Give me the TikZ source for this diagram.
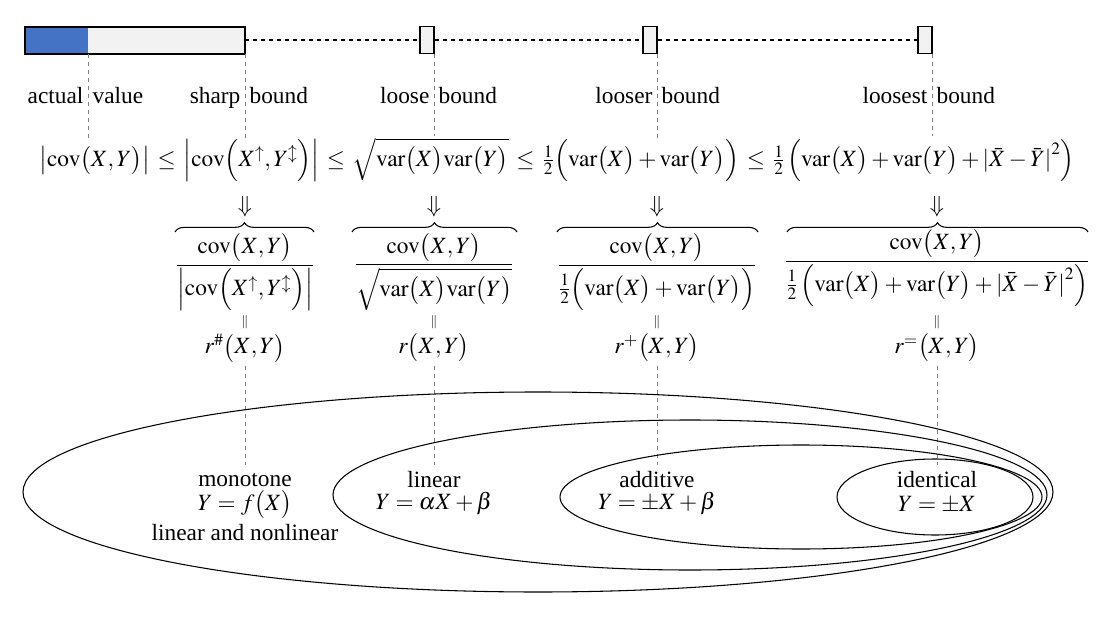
\documentclass[tikz,border=0pt]{standalone}
\usepackage{amsmath}
\usepackage{mathptmx}
\usepackage{fontspec}
\setmainfont{Liberation Serif}
\usetikzlibrary{decorations.pathreplacing}
\definecolor{barblue}{HTML}{4472C4}
\newcommand{\cv}{\mathrm{cov}}
\newcommand{\vr}{\mathrm{var}}
\begin{document}
\begin{tikzpicture}[x=0.75pt,y=-0.75pt,
  txt/.style={font=\fontsize{17.5}{20}\selectfont, inner sep=1pt},
  vd/.style={gray, dashed, thin},
  br/.style={decorate, decoration={brace, amplitude=7pt}, thick},
  ell/.style={draw, thick}]
\useasboundingbox (0,0) rectangle (1106,620);
% bar
\fill[gray!10] (25,27) rectangle (245,54);
\fill[barblue] (25,27) rectangle (88,54);
\draw[thick] (25,27) rectangle (245,54);
\node[coordinate] (b1) at (245,40) {};
\node[draw, thick, fill=gray!10, minimum width=10.5pt, minimum height=20pt, inner sep=0] (b2) at (427,40) {};
\node[draw, thick, fill=gray!10, minimum width=10.5pt, minimum height=20pt, inner sep=0] (b3) at (650,40) {};
\node[draw, thick, fill=gray!10, minimum width=10.5pt, minimum height=20pt, inner sep=0] (b4) at (925,40) {};
\draw[thick, dashed] (b1) -- (b2.west) (b2.east) -- (b3.west) (b3.east) -- (b4.west);
% labels
\node[txt, anchor=base east] at (85,104) {actual};
\node[txt, anchor=base west] at (91,104) {value};
\node[txt, anchor=base east] at (242,104) {sharp};
\node[txt, anchor=base west] at (248,104) {bound};
\node[txt, anchor=base east] at (431,104) {loose};
\node[txt, anchor=base west] at (437,104) {bound};
\node[txt, anchor=base east] at (654,104) {looser};
\node[txt, anchor=base west] at (660,104) {bound};
\node[txt, anchor=base east] at (929,104) {loosest};
\node[txt, anchor=base west] at (935,104) {bound};
\draw[vd] (88,54) -- (88,140);
\draw[vd] (245,54) -- (245,140);
\draw[vd] (434,54) -- (434,136);
\draw[vd] (657,54) -- (657,140);
\draw[vd] (932,54) -- (932,136);
% inequality
\node[txt] (ineq) at (557,160) {$\left|\cv\bigl(X,Y\bigr)\right| \,\le\, \left|\cv\Bigl(X^{\uparrow},Y^{\updownarrow}\Bigr)\right| \,\le\, \sqrt{\vr\bigl(X\bigr)\vr\bigl(Y\bigr)} \,\le\, \tfrac12\Bigl(\vr\bigl(X\bigr)+\vr\bigl(Y\bigr)\Bigr) \,\le\, \tfrac12\left(\vr\bigl(X\bigr)+\vr\bigl(Y\bigr)+\left|\bar{X}-\bar{Y}\right|^2\right)$};
% arrows
\foreach \x in {245,434,657,937} \node[txt] at (\x,207) {$\Downarrow$};
\draw[br] (175,232) -- (314,232);
\draw[br] (352,232) -- (517,232);
\draw[br] (557,232) -- (758,232);
\draw[br] (787,232) -- (1088,232);
% fractions
\node[txt] (f1) at (245,272) {$\dfrac{\cv\bigl(X,Y\bigr)}{\left|\cv\Bigl(X^{\uparrow},Y^{\updownarrow}\Bigr)\right|}$};
\node[txt] (f2) at (434,272) {$\dfrac{\cv\bigl(X,Y\bigr)}{\sqrt{\vr\bigl(X\bigr)\vr\bigl(Y\bigr)}}$};
\node[txt] (f3) at (657,272) {$\dfrac{\cv\bigl(X,Y\bigr)}{\tfrac12\Bigl(\vr\bigl(X\bigr)+\vr\bigl(Y\bigr)\Bigr)}$};
\node[txt] (f4) at (937,268) {$\dfrac{\cv\bigl(X,Y\bigr)}{\tfrac12\left(\vr\bigl(X\bigr)+\vr\bigl(Y\bigr)+\left|\bar{X}-\bar{Y}\right|^2\right)}$};
\foreach \x/\r in {245/{^{\#}},434/{},657/{^{+}},937/{^{=}}} {
  \node[font=\fontsize{10}{11}\selectfont] at (\x,322) {$\|$};
  \node[txt] at (\x,348) {$r\r\bigl(X,Y\bigr)$};
}
\draw[vd] (245,366) -- (245,465);
\draw[vd] (434,366) -- (434,465);
\draw[vd] (657,366) -- (657,465);
\draw[vd] (937,366) -- (937,465);
% ellipses
\draw[ell] (538,492) ellipse [x radius=515, y radius=100];
\draw[ell] (690,495) ellipse [x radius=357, y radius=75];
\draw[ell] (801,497) ellipse [x radius=241, y radius=52];
\draw[ell] (935,497) ellipse [x radius=98, y radius=38];
\node[txt] at (245,480) {monotone};
\node[txt] at (245,505) {$Y=f\bigl(X\bigr)$};
\node[txt] at (245,533) {linear and nonlinear};
\node[txt] at (434,480) {linear};
\node[txt] at (434,503) {$Y=\alpha X+\beta$};
\node[txt] at (657,480) {additive};
\node[txt] at (657,503) {$Y=\pm X+\beta$};
\node[txt] at (937,480) {identical};
\node[txt] at (937,505) {$Y=\pm X$};
\end{tikzpicture}
\end{document}
